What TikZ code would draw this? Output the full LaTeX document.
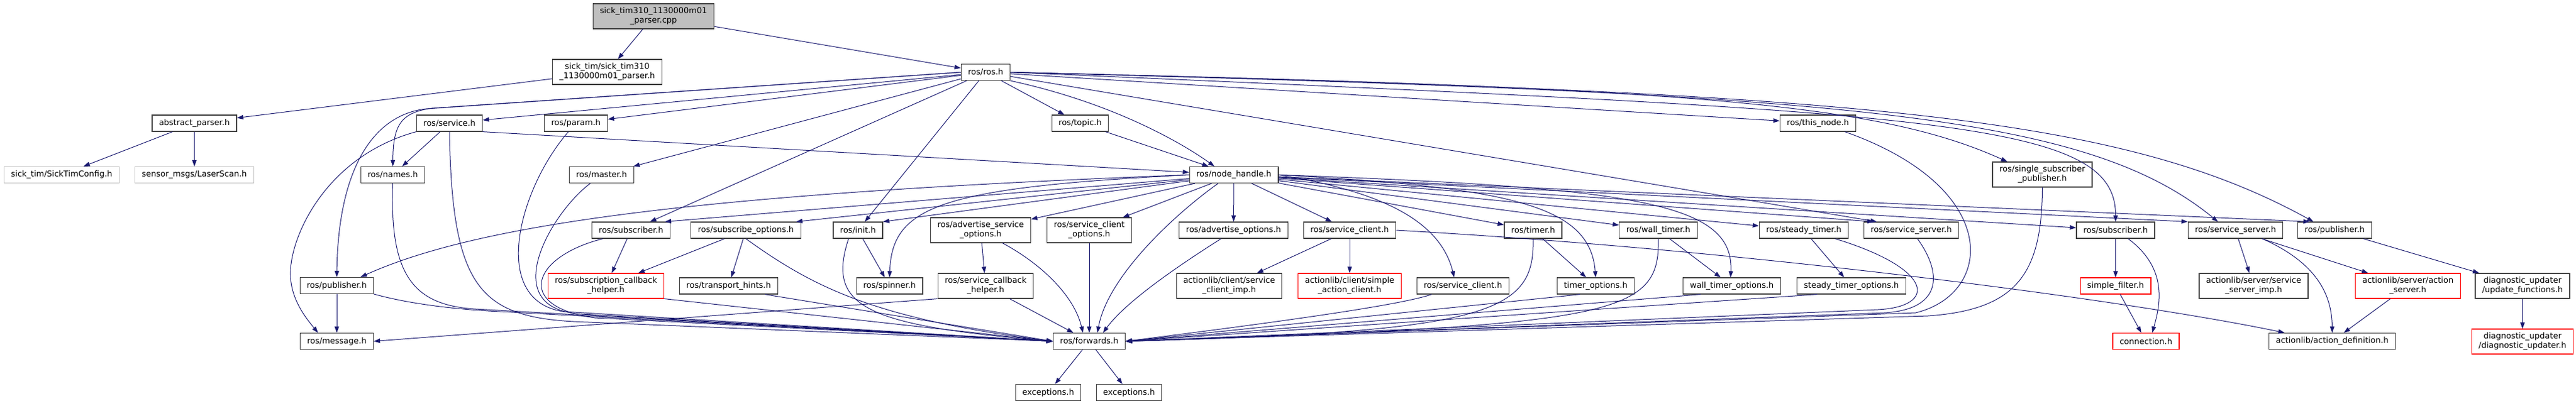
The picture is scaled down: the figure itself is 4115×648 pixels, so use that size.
\documentclass[tikz,border=0pt]{standalone}
\usepackage{fontspec}
\setmainfont{DejaVu Sans}
\usetikzlibrary{arrows.meta}
\definecolor{edgeblue}{HTML}{191970}
\definecolor{boxgray}{HTML}{404040}
\definecolor{fadegray}{HTML}{BFBFBF}
\definecolor{cutred}{HTML}{FF0000}
\tikzset{
  hdr/.style={draw=boxgray, fill=white, line width=1.2pt, inner xsep=11pt, inner ysep=6pt,
    minimum height=26pt, align=center, font=\fontsize{13pt}{15pt}\selectfont},
  cut/.style={hdr, draw=cutred},
  ext/.style={hdr, draw=fadegray},
  cppfile/.style={hdr, fill=fadegray},
  dep/.style={draw=edgeblue, line width=1pt, -{Triangle[length=10pt,width=7pt]}}
}
\begin{document}
\begin{tikzpicture}[x=1pt,y=-1pt]
      \useasboundingbox (0,0) rectangle (4115,648);
      \node[cppfile] (cpp) at (1044,26) {sick\_tim310\_1130000m01\\\_parser.cpp};
      \node[hdr] (parser) at (970,115) {sick\_tim/sick\_tim310\\\_1130000m01\_parser.h};
      \node[hdr] (abstract) at (310.5,197) {abstract\_parser.h};
      \node[ext] (config) at (98.5,279.5) {sick\_tim/SickTimConfig.h};
      \node[ext] (laser) at (310.5,279.5) {sensor\_msgs/LaserScan.h};
      \node[hdr] (ros) at (1574.5,115.5) {ros/ros.h};
      \node[hdr] (service) at (718,197) {ros/service.h};
      \node[hdr] (param) at (920,197) {ros/param.h};
      \node[hdr] (topic) at (1725.5,197) {ros/topic.h};
      \node[hdr] (thisnode) at (2904,197) {ros/this\_node.h};
      \node[hdr] (names) at (627.5,279.5) {ros/names.h};
      \node[hdr] (master) at (961,279.5) {ros/master.h};
      \node[hdr] (nh) at (1971,279.5) {ros/node\_handle.h};
      \node[hdr] (ssp) at (3262.5,279) {ros/single\_subscriber\\\_publisher.h};
      \node[hdr] (sub1) at (1008,368) {ros/subscriber.h};
      \node[hdr] (subopts) at (1191.5,368) {ros/subscribe\_options.h};
      \node[hdr] (init) at (1370.5,368) {ros/init.h};
      \node[hdr] (advsrv) at (1566.5,368) {ros/advertise\_service\\\_options.h};
      \node[hdr] (clientopts) at (1740,368) {ros/service\_client\\\_options.h};
      \node[hdr] (advopts) at (1970.5,368) {ros/advertise\_options.h};
      \node[hdr] (client1) at (2156,368) {ros/service\_client.h};
      \node[hdr] (timer) at (2449,368) {ros/timer.h};
      \node[hdr] (wtimer) at (2649,368) {ros/wall\_timer.h};
      \node[hdr] (stimer) at (2881.5,368) {ros/steady\_timer.h};
      \node[hdr] (server1) at (3053,368) {ros/service\_server.h};
      \node[hdr] (sub2) at (3379.5,368) {ros/subscriber.h};
      \node[hdr] (server2) at (3571,368) {ros/service\_server.h};
      \node[hdr] (pub2) at (3729.5,368) {ros/publisher.h};
      \node[hdr] (pub1) at (538,456.5) {ros/publisher.h};
      \node[cut] (subcb) at (968,457) {ros/subscription\_callback\\\_helper.h};
      \node[hdr] (hints) at (1164,457) {ros/transport\_hints.h};
      \node[hdr] (spinner) at (1421,457) {ros/spinner.h};
      \node[hdr] (srvcb) at (1574.5,457) {ros/service\_callback\\\_helper.h};
      \node[hdr] (clientimp) at (1963.5,457) {actionlib/client/service\\\_client\_imp.h};
      \node[cut] (simple) at (2156,457) {actionlib/client/simple\\\_action\_client.h};
      \node[hdr] (client2) at (2337,457) {ros/service\_client.h};
      \node[hdr] (topts) at (2549,457) {timer\_options.h};
      \node[hdr] (wtopts) at (2766.5,457) {wall\_timer\_options.h};
      \node[hdr] (stopts) at (2957.5,457) {steady\_timer\_options.h};
      \node[cut] (filter) at (3379.5,457) {simple\_filter.h};
      \node[hdr] (serverimp) at (3600,457) {actionlib/server/service\\\_server\_imp.h};
      \node[cut] (actserver) at (3846.5,457) {actionlib/server/action\\\_server.h};
      \node[hdr] (updfn) at (4029.5,457) {diagnostic\_updater\\/update\_functions.h};
      \node[hdr] (message) at (538,545.5) {ros/message.h};
      \node[hdr] (fwd) at (1740,545.5) {ros/forwards.h};
      \node[cut] (conn) at (3428,545.5) {connection.h};
      \node[hdr] (actdef) at (3725.5,545.5) {actionlib/action\_definition.h};
      \node[cut] (diag) at (4029.5,546) {diagnostic\_updater\\/diagnostic\_updater.h};
      \node[hdr] (exc1) at (1674.5,627.5) {exceptions.h};
      \node[hdr] (exc2) at (1803.5,627.5) {exceptions.h};
      \draw[dep] (cpp) -- (parser);
      \draw[dep] (cpp) -- (ros);
      \draw[dep] (parser) -- (abstract);
      \draw[dep] (abstract) -- (config);
      \draw[dep] (abstract) -- (laser);
      \draw[dep] (ros) -- (service);
      \draw[dep] (ros) -- (param);
      \draw[dep] (ros) -- (master);
      \draw[dep] (ros) -- (sub1);
      \draw[dep] (ros) -- (init);
      \draw[dep] (ros) -- (topic);
      \draw[dep] (ros.south east) .. controls (1780,165) and (1890,230) .. ([xshift=-31pt]nh.north);
      \draw[dep] (ros) -- (thisnode);
      \draw[dep] (ros) -- ([xshift=-55pt]server1.north);
      \draw[dep] (ros.west) -- (690,173) .. controls (640,180) and (628,200) .. (names.north);
      \draw[dep] (ros.west) -- (680,174) .. controls (590,185) and (540,280) .. (pub1.north);
      \draw[dep] (ros.east) .. controls (2700,140) and (3000,165) .. ([xshift=-56pt]ssp.north);
      \draw[dep] (ros.east) .. controls (2950,148) and (3380,180) .. ([xshift=-34pt]pub2.north);
      \draw[dep] (ros.east) .. controls (2950,150) and (3330,180) .. ([xshift=-28pt]server2.north);
      \draw[dep] (ros.east) .. controls (3100,180) and (3380,190) .. (sub2.north);
      \draw[dep] (topic) -- (nh);
      \draw[dep] (service) -- (names);
      \draw[dep] (service.south east) -- (nh);
      \draw[dep] (service.south west) .. controls (520,250) and (462,380) .. (464,440) .. controls (465,480) and (490,510) .. ([xshift=-30pt]message.north);
      \draw[dep] (service.south) .. controls (722,470) and (770,510) .. (940,515) -- (fwd.west);
      \draw[dep] (names.south) .. controls (622,440) and (660,488) .. (760,494) -- (fwd.west);
      \draw[dep] (pub1) -- (message);
      \draw[dep] (pub1.south east) .. controls (640,482) and (700,492) .. (780,497) -- (fwd.west);
      \draw[dep] ([xshift=-12pt]param.south) .. controls (830,300) and (780,480) .. (900,498) -- (fwd.west);
      \draw[dep] ([xshift=-18pt]master.south) .. controls (880,340) and (790,495) .. (930,502) -- (fwd.west);
      \draw[dep] ([xshift=-45pt]sub1.south) .. controls (850,410) and (820,490) .. (950,508) -- (fwd.west);
      \draw[dep] (sub1) -- (subcb);
      \draw[dep] (subopts) -- (subcb);
      \draw[dep] (subopts) -- (hints);
      \draw[dep] (subopts.south) .. controls (1300,460) and (1400,510) .. (fwd.west);
      \draw[dep] (subcb.south east) -- (fwd.west);
      \draw[dep] ([xshift=58pt]hints.south) -- (fwd.west);
      \draw[dep] (init) -- (spinner);
      \draw[dep] ([xshift=-15pt]init.south) .. controls (1320,490) and (1380,520) .. (fwd.west);
      \draw[dep] (nh) -- ([xshift=-9pt]sub1.north east);
      \draw[dep] (nh) -- ([xshift=-8pt]subopts.north east);
      \draw[dep] (nh) -- (init.north east);
      \draw[dep] (nh.west) .. controls (1500,300) and (1425,330) .. (spinner.north);
      \draw[dep] (nh.west) .. controls (1100,310) and (760,360) .. ([xshift=38pt]pub1.north);
      \draw[dep] (nh) -- (advsrv);
      \draw[dep] (nh) -- (clientopts);
      \draw[dep] (nh) -- (advopts);
      \draw[dep] ([xshift=-25pt]nh.south) .. controls (1880,340) and (1770,440) .. ([xshift=13pt]fwd.north);
      \draw[dep] (nh) -- (client1);
      \draw[dep] (nh.east) .. controls (2200,305) and (2300,350) .. ([xshift=-14pt]client2.north);
      \draw[dep] (nh) -- (timer);
      \draw[dep] (nh.east) .. controls (2420,300) and (2540,330) .. (topts.north);
      \draw[dep] (nh) -- (wtimer);
      \draw[dep] (nh.east) .. controls (2620,300) and (2770,325) .. ([xshift=-2pt]wtopts.north);
      \draw[dep] (nh) -- (stimer);
      \draw[dep] (nh) -- ([xshift=-60pt]server1.north);
      \draw[dep] (nh) -- (sub2);
      \draw[dep] (nh) -- (server2.north west);
      \draw[dep] (nh) -- ([xshift=-40pt]pub2.north);
      \draw[dep] (advsrv) -- (srvcb);
      \draw[dep] ([xshift=35pt]advsrv.south) .. controls (1660,420) and (1715,470) .. ([xshift=-10pt]fwd.north);
      \draw[dep] (srvcb) -- (fwd);
      \draw[dep] (srvcb.south west) -- (message.east);
      \draw[dep] (clientopts) -- (fwd);
      \draw[dep] ([xshift=-20pt]advopts.south) .. controls (1890,420) and (1800,480) .. ([xshift=22pt]fwd.north);
      \draw[dep] (client1) -- (clientimp);
      \draw[dep] (client1) -- (simple);
      \draw[dep] (client1.east) .. controls (2800,400) and (3400,480) .. ([xshift=-76pt]actdef.north);
      \draw[dep] ([xshift=-50pt]client2.south) .. controls (2230,490) and (2000,520) .. (fwd.east);
      \draw[dep] (timer) -- (topts);
      \draw[dep] (timer.south) .. controls (2452,500) and (2380,530) .. (fwd.east);
      \draw[dep] ([xshift=-25pt]topts.south) -- (fwd.east);
      \draw[dep] (wtimer) -- (wtopts);
      \draw[dep] (wtimer.south) .. controls (2652,505) and (2580,520) .. (fwd.east);
      \draw[dep] ([xshift=-50pt]wtopts.south) -- (fwd.east);
      \draw[dep] (stimer) -- (stopts);
      \draw[dep] ([xshift=50pt]stimer.south) .. controls (3090,430) and (3095,490) .. (3000,495) -- (fwd.east);
      \draw[dep] ([xshift=-55pt]stopts.south) -- (fwd.east);
      \draw[dep] ([xshift=10pt]server1.south) .. controls (3105,440) and (3100,495) .. (3010,500) -- (fwd.east);
      \draw[dep] ([xshift=43pt]thisnode.south) .. controls (3200,300) and (3185,470) .. (3060,500) -- (fwd.east);
      \draw[dep] (ssp.south) .. controls (3262,440) and (3220,495) .. (3080,505) -- (fwd.east);
      \draw[dep] (sub2) -- (filter);
      \draw[dep] ([xshift=20pt]sub2.south) .. controls (3465,430) and (3450,490) .. ([xshift=10pt]conn.north);
      \draw[dep] (filter) -- (conn);
      \draw[dep] (server2) -- (serverimp);
      \draw[dep] ([xshift=43pt]server2.south) .. controls (3700,420) and (3725,470) .. (actdef.north);
      \draw[dep] (server2) -- (actserver);
      \draw[dep] (actserver) -- (actdef);
      \draw[dep] (pub2) -- (updfn);
      \draw[dep] (updfn) -- (diag);
      \draw[dep] (fwd) -- (exc1);
      \draw[dep] (fwd) -- (exc2);
    \end{tikzpicture}
\end{document}
